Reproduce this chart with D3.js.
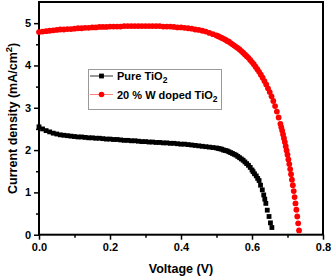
<!DOCTYPE html>
<html>
<head>
<meta charset="utf-8">
<script src="https://cdn.jsdelivr.net/npm/d3@7"></script>
<style>
    body { margin: 0; background: #fff; }
    text { font-family: "Liberation Sans", Arial, sans-serif; font-weight: bold; }
</style>
</head>
<body>
<div id="chart"></div>
<script>
// pure TiO2 (black squares)
const pureV = [0.00, 0.01, 0.02, 0.03, 0.04, 0.05, 0.06, 0.07, 0.08, 0.09,
    0.10, 0.11, 0.12, 0.13, 0.14, 0.15, 0.16, 0.17, 0.18, 0.19,
    0.20, 0.21, 0.22, 0.23, 0.24, 0.25, 0.26, 0.27, 0.28, 0.29,
    0.30, 0.31, 0.32, 0.33, 0.34, 0.35, 0.36, 0.37, 0.38, 0.39,
    0.40, 0.41, 0.42, 0.43, 0.44, 0.45, 0.46, 0.47, 0.48, 0.49,
    0.50, 0.505, 0.51, 0.515, 0.52, 0.525, 0.53, 0.535, 0.54, 0.545,
    0.55, 0.555, 0.56, 0.565, 0.57, 0.575, 0.58, 0.585, 0.59, 0.595,
    0.60, 0.603, 0.607, 0.612, 0.616, 0.620, 0.624, 0.629, 0.633, 0.636,
    0.639, 0.643, 0.648, 0.652, 0.656];
const pureJ = [2.55, 2.50, 2.46, 2.43, 2.40, 2.38, 2.36, 2.35, 2.34, 2.33,
    2.32, 2.31, 2.31, 2.30, 2.29, 2.29, 2.28, 2.28, 2.27, 2.26,
    2.26, 2.25, 2.25, 2.24, 2.23, 2.23, 2.22, 2.22, 2.21, 2.20,
    2.20, 2.19, 2.19, 2.18, 2.18, 2.17, 2.17, 2.16, 2.16, 2.15,
    2.14, 2.14, 2.13, 2.12, 2.11, 2.10, 2.09, 2.08, 2.07, 2.06,
    2.05, 2.04, 2.03, 2.02, 2.00, 1.99, 1.98, 1.96, 1.94, 1.92,
    1.90, 1.88, 1.85, 1.82, 1.79, 1.76, 1.72, 1.68, 1.64, 1.59,
    1.53, 1.49, 1.44, 1.39, 1.33, 1.28, 1.17, 1.06, 0.94, 0.84,
    0.74, 0.58, 0.43, 0.28, 0.17];

// 20 % W doped TiO2 (red circles)
const dopedV = [0.00, 0.01, 0.02, 0.03, 0.04, 0.05, 0.06, 0.07, 0.08, 0.09,
    0.10, 0.11, 0.12, 0.13, 0.14, 0.15, 0.16, 0.17, 0.18, 0.19,
    0.20, 0.21, 0.22, 0.23, 0.24, 0.25, 0.26, 0.27, 0.28, 0.29,
    0.30, 0.31, 0.32, 0.33, 0.34, 0.35, 0.36, 0.37, 0.38, 0.39,
    0.40, 0.41, 0.42, 0.43, 0.44, 0.45, 0.46, 0.47, 0.48, 0.49,
    0.50, 0.505, 0.51, 0.515, 0.52, 0.525, 0.53, 0.535, 0.54, 0.545,
    0.55, 0.555, 0.56, 0.565, 0.57, 0.575, 0.58, 0.585, 0.59, 0.595,
    0.60, 0.605, 0.61, 0.615, 0.62, 0.625, 0.63, 0.635, 0.64, 0.645,
    0.65, 0.655, 0.66, 0.665, 0.67, 0.675, 0.68, 0.6825, 0.685, 0.6875,
    0.69, 0.6925, 0.695, 0.6975, 0.70, 0.7025, 0.705, 0.7075, 0.71, 0.7125,
    0.715, 0.7175, 0.72, 0.7225, 0.725, 0.7275, 0.73, 0.7325];
const dopedJ = [4.79, 4.80, 4.81, 4.82, 4.83, 4.84, 4.85, 4.85, 4.86, 4.86,
    4.87, 4.88, 4.88, 4.89, 4.89, 4.90, 4.90, 4.91, 4.91, 4.91,
    4.92, 4.92, 4.92, 4.92, 4.93, 4.93, 4.93, 4.93, 4.93, 4.93,
    4.93, 4.93, 4.93, 4.93, 4.93, 4.92, 4.92, 4.92, 4.91, 4.90,
    4.90, 4.89, 4.88, 4.87, 4.85, 4.84, 4.82, 4.80, 4.77, 4.74,
    4.71, 4.69, 4.67, 4.65, 4.63, 4.61, 4.58, 4.56, 4.53, 4.50,
    4.47, 4.44, 4.41, 4.38, 4.34, 4.30, 4.26, 4.22, 4.18, 4.13,
    4.08, 4.03, 3.97, 3.91, 3.85, 3.78, 3.71, 3.63, 3.55, 3.46,
    3.37, 3.27, 3.16, 3.04, 2.91, 2.77, 2.62, 2.54, 2.46, 2.37,
    2.28, 2.19, 2.09, 1.99, 1.89, 1.78, 1.67, 1.55, 1.43, 1.30,
    1.17, 1.03, 0.89, 0.74, 0.59, 0.43, 0.27, 0.10];

const xMajor = [0, 0.2, 0.4, 0.6, 0.8];
const xMinor = [0.1, 0.3, 0.5, 0.7];
const yMajor = [0, 1, 2, 3, 4, 5];
const yMinor = [0.5, 1.5, 2.5, 3.5, 4.5];

const pureData = pureV.map((v, i) => ({ v: v, j: pureJ[i] }));
const dopedData = dopedV.map((v, i) => ({ v: v, j: dopedJ[i] }));

const W = 331, H = 278;
const margin = { top: 2, right: 8, bottom: 43.3, left: 39 };
const width = W - margin.left - margin.right,
    height = H - margin.top - margin.bottom;

const svg = d3.select("#chart").append("svg")
    .attr("width", W)
    .attr("height", H);

const g = svg.append("g")
    .attr("transform", `translate(${margin.left}, ${margin.top})`);

const x = d3.scaleLinear().domain([0, 0.8]).range([0, width]);
const y = d3.scaleLinear().domain([0, 5.5]).range([height, 0]);

// minor ticks
g.append("g")
    .attr("transform", `translate(0, ${height})`)
    .call(d3.axisBottom(x).tickValues(xMinor).tickSize(3).tickFormat(""))
    .call(a => a.select(".domain").remove());
g.append("g")
    .call(d3.axisLeft(y).tickValues(yMinor).tickSize(3).tickFormat(""))
    .call(a => a.select(".domain").remove());

// major ticks
const xAxis = g.append("g")
    .attr("transform", `translate(0, ${height})`)
    .call(d3.axisBottom(x).tickValues(xMajor).tickSize(5).tickPadding(4)
        .tickFormat(d3.format(".1f")));
xAxis.select(".domain").remove();
xAxis.selectAll("text").attr("font-size", 11).attr("fill", "#000");

const yAxis = g.append("g")
    .call(d3.axisLeft(y).tickValues(yMajor).tickSize(5).tickPadding(3)
        .tickFormat(d3.format("d")));
yAxis.select(".domain").remove();
yAxis.selectAll("text").attr("font-size", 11).attr("fill", "#000");

g.selectAll(".tick line").attr("stroke", "#000").attr("stroke-width", 1.5);

// frame
g.append("rect")
    .attr("x", 0).attr("y", 0)
    .attr("width", width).attr("height", height)
    .attr("fill", "none")
    .attr("stroke", "#000")
    .attr("stroke-width", 2);

// data
g.append("g")
    .selectAll("rect")
    .data(pureData)
    .join("rect")
    .attr("x", d => x(d.v) - 2.4)
    .attr("y", d => y(d.j) - 2.4)
    .attr("width", 4.8)
    .attr("height", 4.8)
    .attr("fill", "#000");

g.append("g")
    .selectAll("circle")
    .data(dopedData)
    .join("circle")
    .attr("cx", d => x(d.v))
    .attr("cy", d => y(d.j))
    .attr("r", 2.9)
    .attr("fill", "#ff0000");

// legend
const legend = svg.append("g");
legend.append("rect")
    .attr("x", 88.5).attr("y", 69.5)
    .attr("width", 133).attr("height", 40)
    .attr("fill", "#fff")
    .attr("stroke", "#999")
    .attr("stroke-width", 1);

const legendItems = [
    { label: "Pure TiO", color: "#000", line: "#333", shape: "square", yy: 76 },
    { label: "20 % W doped TiO", color: "#ff0000", line: "#ff8080", shape: "circle", yy: 94.5 }
];
legendItems.forEach(it => {
    legend.append("line")
        .attr("x1", 90).attr("x2", 113)
        .attr("y1", it.yy).attr("y2", it.yy)
        .attr("stroke", it.line)
        .attr("stroke-width", 1);
    if (it.shape === "square") {
        legend.append("rect")
            .attr("x", 101.5 - 2.4).attr("y", it.yy - 2.4)
            .attr("width", 4.8).attr("height", 4.8)
            .attr("fill", it.color);
    } else {
        legend.append("circle")
            .attr("cx", 101.5).attr("cy", it.yy).attr("r", 2.8)
            .attr("fill", it.color);
    }
    const t = legend.append("text")
        .attr("x", 117)
        .attr("y", it.yy + 4)
        .attr("font-size", 11)
        .attr("fill", "#000")
        .text(it.label);
    t.append("tspan")
        .attr("dy", 3)
        .attr("font-size", 8.5)
        .text("2");
});

// axis titles
svg.append("text")
    .attr("x", margin.left + x(0.4))
    .attr("y", 273)
    .attr("text-anchor", "middle")
    .attr("font-size", 12.5)
    .attr("fill", "#000")
    .text("Voltage (V)");

const yt = svg.append("text")
    .attr("transform", `translate(17, ${margin.top + height / 2}) rotate(-90)`)
    .attr("text-anchor", "middle")
    .attr("font-size", 12.5)
    .attr("fill", "#000")
    .text("Current density (mA/cm");
yt.append("tspan").attr("dy", -5).attr("font-size", 9.5).text("2");
yt.append("tspan").attr("dy", 5).text(")");
</script>
</body>
</html>
